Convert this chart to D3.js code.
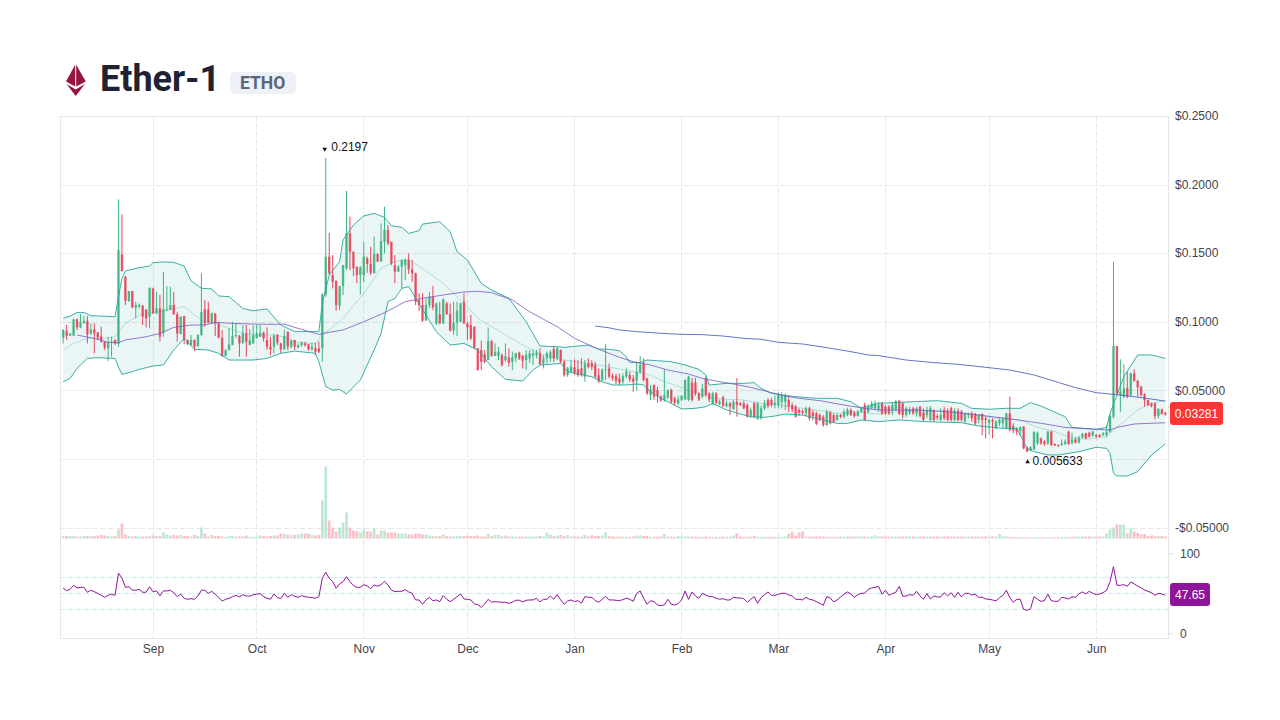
<!DOCTYPE html>
<html>
<head>
<meta charset="utf-8">
<title>Ether-1</title>
<script src="https://cdn.jsdelivr.net/npm/d3@7"></script>
<style>
  body { margin: 0; background: #fff; }
  svg { display: block; }
  text { font-family: "Liberation Sans", Arial, sans-serif; }
</style>
</head>
<body>
<svg id="chart" width="1280" height="720"></svg>
<script>
// daily candles, first candle is 6 Aug
var startDate = Date.UTC(2020, 7, 6);

var opens = [
.0888,.0936,.0902,.0902,.1021,.0963,.0992,.1009,.0919,.0948,
.0927,.0895,.0859,.0810,.0851,.0871,.0842,.1495,.1332,.1155,
.1228,.1106,.1114,.1121,.1094,.1041,.1247,.1065,.1102,.0924,
.1089,.1094,.1126,.1058,.0914,.1046,.0871,.0834,.0871,.0827,
.0907,.1094,.1094,.0992,.1065,.0992,.0888,.0754,.0798,.0834,
.0902,.0902,.0851,.0919,.0834,.0846,.0883,.0895,.0924,.0871,
.0822,.0822,.0907,.0846,.0803,.0932,.0822,.0871,.0817,.0834,
.0846,.0839,.0803,.0810,.0810,.0810,.1204,.1478,.1344,.1303,
.1121,.1264,.1393,.1648,.1515,.1405,.1344,.1344,.1466,.1425,
.1357,.1498,.1442,.1587,.1673,.1587,.1417,.1369,.1405,.1417,
.1454,.1386,.1357,.1162,.1126,.1012,.1126,.1187,.0992,.1060,
.0992,.1138,.1060,.0939,.0997,.1004,.1150,.0992,.0980,.0968,
.0810,.0798,.0768,.0725,.0863,.0754,.0756,.0761,.0725,.0744,
.0712,.0737,.0778,.0756,.0725,.0737,.0756,.0761,.0774,.0700,
.0737,.0737,.0805,.0737,.0798,.0712,.0615,.0640,.0671,.0659,
.0664,.0603,.0700,.0700,.0688,.0615,.0579,.0652,.0664,.0611,
.0608,.0591,.0567,.0604,.0616,.0591,.0574,.0635,.0701,.0591,
.0470,.0543,.0506,.0458,.0434,.0451,.0506,.0446,.0409,.0434,
.0438,.0434,.0560,.0560,.0482,.0458,.0591,.0482,.0404,.0482,
.0404,.0453,.0390,.0409,.0368,.0421,.0409,.0409,.0397,.0312,
.0409,.0295,.0300,.0373,.0434,.0434,.0397,.0397,.0421,.0421,
.0434,.0397,.0385,.0361,.0353,.0336,.0373,.0341,.0336,.0324,
.0312,.0251,.0343,.0324,.0288,.0324,.0312,.0324,.0361,.0341,
.0317,.0348,.0397,.0348,.0373,.0373,.0366,.0409,.0385,.0385,
.0356,.0361,.0429,.0409,.0324,.0341,.0373,.0336,.0385,.0341,
.0324,.0288,.0356,.0317,.0288,.0361,.0356,.0373,.0288,.0356,
.0349,.0276,.0324,.0336,.0332,.0288,.0332,.0300,.0268,.0288,
.0227,.0264,.0264,.0227,.0336,.0244,.0227,.0210,.0239,.0089,
.0069,.0074,.0118,.0154,.0130,.0118,.0203,.0113,.0106,.0106,
.0113,.0203,.0118,.0147,.0122,.0161,.0191,.0195,.0174,.0178,
.0178,.0178,.0178,.0203,.0312,.0827,.0470,.0458,.0519,.0470,
.0628,.0574,.0531,.0477,.0433,.0409,.0409,.0317,.0365,.0340];

var closes = [
.0944,.0902,.0919,.1021,.0963,.1002,.1009,.0912,.0948,.0919,
.0890,.0859,.0817,.0851,.0859,.0846,.1527,.1374,.1157,.1228,
.1109,.1126,.1126,.1041,.1029,.1252,.1065,.1102,.0895,.1094,
.1094,.1126,.1058,.0919,.1041,.0871,.0842,.0871,.0822,.0907,
.1075,.0992,.0997,.1065,.0992,.0888,.0754,.0798,.0839,.0902,
.0907,.0846,.0919,.0859,.0871,.0907,.0919,.0924,.0883,.0822,
.0803,.0902,.0851,.0803,.0900,.0822,.0866,.0822,.0834,.0851,
.0834,.0803,.0822,.0786,.0786,.1204,.1478,.1357,.1296,.1126,
.1264,.1417,.1648,.1515,.1393,.1344,.1400,.1478,.1425,.1361,
.1498,.1442,.1592,.1673,.1575,.1430,.1369,.1405,.1454,.1454,
.1386,.1357,.1150,.1126,.1012,.1126,.1187,.1109,.1138,.0992,
.1167,.1060,.0939,.0997,.1085,.1138,.0992,.0963,.0883,.0817,
.0652,.0712,.0712,.0863,.0754,.0786,.0786,.0689,.0754,.0705,
.0744,.0774,.0737,.0720,.0761,.0774,.0774,.0781,.0696,.0737,
.0774,.0781,.0737,.0810,.0712,.0615,.0664,.0676,.0628,.0615,
.0615,.0700,.0676,.0676,.0603,.0567,.0652,.0659,.0603,.0591,
.0574,.0560,.0608,.0640,.0584,.0567,.0640,.0689,.0579,.0482,
.0511,.0458,.0463,.0429,.0470,.0506,.0421,.0414,.0438,.0463,
.0579,.0604,.0434,.0482,.0438,.0518,.0470,.0438,.0482,.0414,
.0421,.0390,.0409,.0385,.0421,.0397,.0397,.0373,.0312,.0361,
.0312,.0409,.0373,.0409,.0390,.0397,.0414,.0470,.0470,.0470,
.0385,.0366,.0312,.0342,.0341,.0373,.0300,.0317,.0259,.0288,
.0251,.0348,.0263,.0276,.0324,.0312,.0348,.0361,.0324,.0317,
.0348,.0373,.0288,.0390,.0409,.0409,.0397,.0336,.0336,.0336,
.0397,.0426,.0332,.0324,.0373,.0361,.0336,.0373,.0317,.0288,
.0356,.0373,.0288,.0307,.0324,.0300,.0288,.0288,.0356,.0288,
.0288,.0336,.0332,.0300,.0264,.0324,.0288,.0288,.0288,.0276,
.0276,.0288,.0295,.0336,.0215,.0210,.0203,.0234,.0081,.0057,
.0089,.0203,.0195,.0118,.0113,.0203,.0106,.0103,.0098,.0118,
.0130,.0113,.0147,.0122,.0161,.0186,.0154,.0166,.0203,.0166,
.0166,.0191,.0203,.0317,.0827,.0482,.0494,.0519,.0458,.0628,
.0574,.0526,.0470,.0433,.0397,.0390,.0317,.0368,.0331,.03281];

var highs = [
.0949,.0980,.0919,.1026,.1028,.1060,.1046,.1046,.0992,.0992,
.0927,.0968,.0859,.0895,.0895,.0875,.1896,.1787,.1337,.1228,
.1228,.1150,.1138,.1126,.1094,.1252,.1252,.1223,.1199,.1369,
.1264,.1259,.1223,.1077,.1041,.1046,.0875,.0907,.0875,.0914,
.1357,.1162,.1150,.1070,.1065,.1004,.0944,.0803,.0956,.1004,
.0992,.0907,.0980,.0980,.0948,.0980,.0980,.0980,.0932,.0963,
.0895,.0914,.0914,.0851,.0944,.0932,.0875,.0871,.0846,.0859,
.0859,.0842,.0851,.0851,.0859,.1211,.2197,.1653,.1490,.1303,
.1264,.1417,.1957,.1770,.1515,.1405,.1410,.1587,.1478,.1551,
.1624,.1503,.1721,.1843,.1709,.1587,.1490,.1417,.1459,.1466,
.1503,.1454,.1361,.1211,.1211,.1175,.1223,.1264,.1143,.1150,
.1175,.1150,.1138,.1150,.1150,.1143,.1211,.1004,.1053,.0968,
.0810,.0866,.0798,.0963,.0871,.0846,.0822,.0774,.0846,.0810,
.0786,.0778,.0786,.0761,.0798,.0798,.0803,.0798,.0810,.0761,
.0786,.0798,.0822,.0822,.0803,.0725,.0676,.0725,.0730,.0725,
.0737,.0725,.0737,.0725,.0713,.0664,.0664,.0842,.0700,.0628,
.0625,.0625,.0628,.0665,.0640,.0616,.0713,.0754,.0737,.0596,
.0543,.0547,.0530,.0470,.0657,.0510,.0518,.0458,.0465,.0470,
.0586,.0611,.0594,.0594,.0490,.0550,.0604,.0490,.0494,.0490,
.0438,.0465,.0430,.0421,.0434,.0593,.0419,.0430,.0409,.0378,
.0419,.0419,.0394,.0434,.0446,.0450,.0465,.0490,.0490,.0482,
.0470,.0415,.0397,.0373,.0365,.0385,.0385,.0361,.0348,.0336,
.0324,.0365,.0356,.0336,.0336,.0333,.0365,.0378,.0373,.0353,
.0361,.0385,.0414,.0402,.0424,.0430,.0421,.0421,.0397,.0397,
.0421,.0433,.0433,.0421,.0385,.0385,.0385,.0385,.0390,.0373,
.0385,.0390,.0366,.0332,.0373,.0385,.0373,.0385,.0373,.0373,
.0361,.0341,.0341,.0349,.0341,.0332,.0336,.0312,.0300,.0300,
.0288,.0300,.0307,.0341,.0458,.0264,.0234,.0244,.0244,.0093,
.0098,.0203,.0203,.0161,.0142,.0210,.0210,.0118,.0110,.0147,
.0147,.0210,.0195,.0161,.0171,.0195,.0195,.0203,.0210,.0186,
.0186,.0200,.0251,.0332,.1442,.0827,.0730,.0693,.0640,.0633,
.0657,.0579,.0536,.0482,.0438,.0414,.0414,.0373,.0370,.0345];

var lows = [
.0846,.0871,.0902,.0902,.0944,.0956,.0992,.0846,.0907,.0774,
.0871,.0851,.0798,.0718,.0749,.0834,.0822,.1369,.1126,.1150,
.1101,.1029,.1101,.0980,.0963,.0956,.1060,.1060,.0859,.0895,
.1084,.1089,.1053,.0859,.0914,.0842,.0834,.0834,.0790,.0822,
.0902,.0968,.0992,.0992,.0900,.0883,.0749,.0754,.0793,.0834,
.0883,.0749,.0842,.0749,.0834,.0846,.0883,.0895,.0859,.0798,
.0761,.0774,.0834,.0774,.0798,.0798,.0810,.0798,.0810,.0822,
.0822,.0793,.0793,.0761,.0774,.0713,.1187,.1344,.1247,.1084,
.1089,.1199,.1381,.1381,.1337,.1284,.1204,.1291,.1361,.1344,
.1357,.1442,.1442,.1503,.1563,.1417,.1284,.1369,.1247,.1308,
.1352,.1296,.1126,.1084,.1004,.1012,.1102,.1089,.0980,.0987,
.0987,.1053,.0932,.0907,.0900,.1004,.0987,.0871,.0871,.0803,
.0647,.0652,.0700,.0725,.0749,.0754,.0725,.0676,.0712,.0676,
.0652,.0712,.0725,.0664,.0652,.0705,.0688,.0737,.0688,.0664,
.0700,.0712,.0712,.0725,.0700,.0603,.0603,.0632,.0615,.0603,
.0603,.0567,.0664,.0652,.0591,.0560,.0567,.0579,.0591,.0574,
.0550,.0540,.0547,.0591,.0565,.0494,.0500,.0630,.0569,.0470,
.0433,.0433,.0414,.0422,.0421,.0441,.0409,.0397,.0397,.0426,
.0433,.0426,.0421,.0465,.0426,.0446,.0458,.0418,.0397,.0404,
.0397,.0382,.0382,.0324,.0361,.0312,.0390,.0365,.0305,.0305,
.0300,.0290,.0290,.0361,.0373,.0382,.0373,.0373,.0373,.0361,
.0347,.0343,.0305,.0317,.0324,.0312,.0283,.0285,.0250,.0278,
.0239,.0245,.0256,.0268,.0280,.0300,.0300,.0316,.0317,.0305,
.0312,.0340,.0285,.0336,.0368,.0360,.0348,.0324,.0324,.0324,
.0324,.0356,.0324,.0300,.0312,.0324,.0324,.0312,.0307,.0276,
.0300,.0281,.0276,.0288,.0281,.0288,.0281,.0276,.0276,.0276,
.0276,.0268,.0300,.0276,.0251,.0264,.0178,.0154,.0178,.0154,
.0220,.0244,.0227,.0220,.0203,.0191,.0178,.0171,.0074,.005633,
.0057,.0069,.0106,.0106,.0098,.0106,.0098,.0098,.0093,.0098,
.0106,.0106,.0113,.0118,.0118,.0154,.0149,.0159,.0166,.0161,
.0161,.0171,.0166,.0195,.0300,.0470,.0348,.0446,.0446,.0463,
.0567,.0458,.0458,.0385,.0390,.0380,.0293,.0300,.0328,.0320];

// volume in arbitrary units, the picture has no volume axis
var volumes = [
2.5,2.5,2.5,2.5,2,2,2.5,2.5,2.5,2.5,3,3.5,3,2.5,2,2.5,
9,15,4,2.5,2,2.5,2,2,2,2.5,3,2.5,2.5,
6,4,3,3.5,3,3.5,2.5,2.5,2,3.5,2.5,11,5,2,3.5,2.5,2.5,2,1.7,2.5,2.5,2,2,2,3,1.7,1.7,1.7,3,2.5,2,2.5,3,3,5,4.5,4,3.5,3.5,4,5,5,5,3.5,3,3.5,
38,72,18,11,7,11,16,26,11,8,7,6,9,7,7,10,4,8,8,6,6,6,5,5,5,4,4,5,5,4,4,3,2.5,2.5,2.5,4,2.5,2,
2,2.5,2.5,2.5,2.5,2.5,2.5,3,2,2,4.5,2.5,3.5,3.5,2,3,2,2,2,2,2,2,2,2,2,2.5,2,6,4,2.5,3,3.5,2.5,3.5,2,2,2,1.7,3.5,2,3,2.5,2.5,3,6,
2.5,2,1.7,2,1.7,1.7,1.7,2,3,3,2.5,2.5,1.7,1.7,1.7,2,4.5,2,2,1.7,2.5,2,2,2,2,1.7,1.7,1.7,2,1.7,1.7,1.7,1.7,2,1.7,1.7,3,5,2,1.7,1.7,2,2.5,1.7,1.7,1.7,1.7,1.7,1.7,1.7,1.7,2,5,7,3,6,7,2,2,2,2,2,2,1.7,1.7,1.7,1.7,
2,2,2,2,2,2,2,2,2,2,3,2,2,2,2,2,2,2,2,2,2,2.2,
2,2,2,2,2,2,2,2,2,2,2,2,2,2,2,2,2,2,2,2,2,2,2,2,
4.5,2.5,2,1.5,1.5,1.2,1.5,1.5,1.2,1.5,1.5,1.2,1.2,1.2,1.2,1.5,1.2,1.2,1.5,1.5,1.5,
2,2,2,2,2,2,2,2,2,2,5,9,11,14,14,14,5,10,7,5.5,4,4.5,2.5,3,2.5,2.5,2.5,2];

var rsiValues = [
56.3,53.3,55,60,56.7,57.5,57.5,51.3,53.8,52,50,47.5,45,47.5,48.8,47.5,75,69.2,57.5,58.3,54.2,53.8,55,51.3,51.3,58.3,52,53,46.7,53,53,53.8,50.8,45.8,49.2,43.8,42.5,43.3,42.5,46.7,53.8,53.8,50,52.5,48.8,45,40.4,42.5,43.8,45.8,47.5,45.4,48.3,46.7,46.3,48.3,48.8,49.6,45.8,43.8,42.5,49.2,44.6,43.3,50,45,48.3,46.3,45,47.1,45.8,45,44.6,43.8,45.8,68.8,76.3,68.8,64.6,56.3,61.7,64.6,70.8,64.6,59.6,57.5,57.5,60.8,59.2,55.8,60.4,58.8,60.8,65,60.4,54.2,52,52.5,52.5,54.6,51.7,50,41.7,41.7,36.3,41.7,45,40.8,41.7,39.6,47.1,42.5,39.6,
42.5,45.8,49.2,42.9,42.5,41.7,36.7,35.8,32.5,36.7,42.5,38.8,39.6,39.2,38.8,38.8,37.5,38.8,41.3,41.3,39.2,41.3,41.7,41.7,43.8,39.2,42.5,42.5,46.7,42.5,48.3,41.7,36.3,40.4,41.7,39.6,40.8,37.5,45.8,45,45,40.8,38.8,42.5,46.3,41.7,41.7,41.3,40.8,42.1,43.8,42.5,40,50,52.9,43.8,36.3,40.8,39.6,35.4,34.6,35.4,42.5,36.3,35.4,37.1,41.7,52.9,42.5,51.7,46.7,43.8,50,47.9,45.8,45.8,43.8,42.5,43.3,41.7,41.7,45,44.2,44.2,43.3,38.8,42.5,45.8,37.5,44.6,48.3,51.7,47.5,47.5,48.8,50,50,47.9,46.7,42.5,42.5,41.7,45,42.5,41.7,39.6,37.5,35,45.8,44.2,39.2,41.7,
45.4,48.8,51.7,49.2,45,48.3,50,50,55,56.7,57.5,58.8,48.8,53.8,47.5,49.6,51.3,58.8,46.3,46.7,48.3,47.5,52.5,46.7,42.5,49.6,42.9,46.7,45.4,45.4,50.8,46.7,50.8,45,51.3,45.4,50,50,47.9,48.8,45,45,42.9,42.5,41.7,40.4,44.6,47.5,53.8,44.6,38.8,42.5,42.5,30,28.8,30.8,45.8,42.5,40,40.8,48.8,40.8,40,40,45,44.2,42.9,45.8,45,49.2,51.7,49.2,52.5,50,48.3,49.2,50.8,53.8,64.6,83.3,60,60,60.8,58.8,64.2,61.7,59.2,56.7,54.2,52.5,50.8,47.5,50,49.2,47.65];

// bollinger upper band, [day, price] kept as two lists
var upperDays = [0,2,4,6,8,15,16,17,18,22,25,26,29,32,35,37,40,43,45,48,52,55,59,63,67,74,75,77,80,81,84,87,90,93,95,98,100,103,104,109,112,114,117,121,124,129,134,138,143,145,152,155,158,161,163,164,167,169,172,176,180,184,186,187,192,197,200,202,205,208,212,218,224,228,231,236,246,253,260,263,268,273,277,280,283,290,292,299,302,303,305,307,311,315,319];
var upperVals = [.1029,.1045,.1072,.1072,.1048,.1041,.1187,.1320,.1374,.1398,.1410,.1435,.1440,.1437,.1410,.1303,.1248,.1243,.1192,.1187,.1101,.1084,.1097,.0980,.0932,.0932,.1138,.1345,.1442,.1600,.1709,.1775,.1794,.1765,.1704,.1692,.1648,.1668,.1716,.1733,.1661,.1515,.1454,.1284,.1235,.1175,.1004,.0827,.0822,.0817,.0834,.0805,.0803,.0793,.0749,.0708,.0706,.0725,.0720,.0713,.0689,.0657,.0616,.0543,.0555,.0555,.0560,.0519,.0482,.0470,.0458,.0446,.0446,.0421,.0373,.0409,.0421,.0429,.0409,.0373,.0366,.0373,.0373,.0414,.0390,.0312,.0234,.0220,.0234,.0336,.0470,.0604,.0762,.0762,.0737];

var lowerDays = [0,2,4,7,10,15,16,17,20,22,26,29,32,35,38,42,45,48,55,59,63,67,73,74,76,78,80,82,86,90,92,94,96,98,100,102,105,108,112,116,120,124,128,133,136,138,144,146,153,156,159,163,166,168,170,173,176,179,183,186,188,192,196,199,203,206,209,214,218,222,224,227,231,236,242,249,260,265,272,276,279,281,285,288,294,299,302,303,304,305,308,311,315,319];
var lowerVals = [.0567,.0591,.0664,.0737,.0742,.0737,.0676,.0620,.0640,.0657,.0681,.0689,.0798,.0883,.0803,.0798,.0774,.0725,.0725,.0737,.0774,.0790,.0774,.0713,.0530,.0506,.0511,.0477,.0579,.0798,.0919,.1150,.1174,.1247,.1260,.1175,.1053,.0931,.0834,.0846,.0798,.0676,.0584,.0572,.0652,.0688,.0700,.0640,.0603,.0567,.0543,.0543,.0550,.0543,.0494,.0446,.0409,.0368,.0373,.0385,.0409,.0361,.0331,.0312,.0307,.0317,.0331,.0324,.0300,.0276,.0263,.0263,.0288,.0276,.0288,.0276,.0268,.0244,.0227,.0227,.0081,.0057,.0033,.0033,.0057,.0089,.0081,.0045,-.0101,-.0120,-.0120,-.0089,.0033,.0113];

var midDays = [0,3,7,12,15,18,23,28,35,40,43,48,52,57,62,67,73,75,77,81,87,92,96,100,104,110,116,120,124,129,133,139,145,152,155,160,165,170,174,179,183,187,192,197,202,207,212,218,224,229,236,246,256,265,270,277,282,287,291,296,302,304,307,311,315,319];
var midVals = [.0798,.0846,.0883,.0883,.0895,.0992,.1065,.1077,.1114,.1017,.1004,.0956,.0919,.0907,.0907,.0859,.0842,.0919,.0944,.1029,.1211,.1393,.1442,.1459,.1393,.1284,.1138,.1029,.0968,.0895,.0834,.0761,.0725,.0700,.0689,.0664,.0640,.0616,.0567,.0526,.0487,.0453,.0438,.0434,.0409,.0397,.0380,.0361,.0336,.0348,.0332,.0361,.0349,.0324,.0300,.0288,.0234,.0203,.0166,.0147,.0166,.0215,.0276,.0361,.0409,.0429];

// purple moving average
var maDays = [4,9,13,16,18,24,28,32,37,41,44,49,55,61,64,69,74,77,81,87,93,99,104,110,116,120,124,130,135,143,148,155,161,165,170,175,181,185,189,194,199,204,209,213,219,226,232,236,246,256,265,275,283,290,299,303,305,310,319];
var maVals = [.0907,.0883,.0854,.0851,.0871,.0895,.0919,.0963,.0980,.0980,.0999,.0992,.0987,.0985,.0987,.0948,.0912,.0927,.0944,.1004,.1070,.1150,.1175,.1199,.1221,.1226,.1216,.1163,.1077,.0968,.0883,.0803,.0745,.0713,.0689,.0652,.0623,.0591,.0572,.0550,.0526,.0494,.0463,.0446,.0429,.0397,.0373,.0361,.0361,.0349,.0324,.0293,.0264,.0234,.0220,.0215,.0234,.0259,.0268];

// blue moving average, only starts in January
var longMaDays = [154,158,161,166,173,179,185,191,197,202,207,214,221,228,233,236,244,252,259,267,274,281,288,293,299,304,310,319];
var longMaVals = [.0973,.0960,.0944,.0932,.0920,.0912,.0910,.0900,.0883,.0876,.0854,.0842,.0815,.0786,.0762,.0757,.0725,.0706,.0694,.0672,.0652,.0616,.0562,.0524,.0487,.0475,.0458,.0426];

var priceTicks = [.25,.2,.15,.1,.05,-.05];
var priceGrid = [.2,.15,.1,.05,0,-.05];
var priceTickLabels = ["$0.2500","$0.2000","$0.1500","$0.1000","$0.05000","-$0.05000"];
var rsiTicks = [100,0];
var rsiBands = [70,50,30];
var lastPrice = "0.03281";
var lastRsi = "47.65";

var svg = d3.select("#chart");

var x = d3.scaleUtc()
  .domain([startDate, startDate + 319 * 864e5])
  .range([63.2, 1165.3]);
var day = d => x(startDate + d * 864e5);
var y = d3.scaleLinear().domain([0, .25]).range([459.5, 116.5]);
var yVol = d3.scaleLinear().domain([0, 72]).range([538.5, 466.5]);
var yRsi = d3.scaleLinear().domain([0, 100]).range([633.3, 553.3]);

var months = d3.utcMonth.range(new Date(startDate), new Date(startDate + 320 * 864e5));

// grid
var dash = "5.5,2.5";
var grid = svg.append("g").attr("stroke", "#e6e6e6").attr("stroke-dasharray", dash);
grid.selectAll(".h").data(priceGrid).join("line")
  .attr("x1", 60).attr("x2", 1168)
  .attr("y1", d => Math.floor(y(d)) + .5).attr("y2", d => Math.floor(y(d)) + .5);
grid.selectAll(".v").data(months).join("line")
  .attr("x1", d => Math.floor(x(d)) + .5).attr("x2", d => Math.floor(x(d)) + .5)
  .attr("y1", 116).attr("y2", 638);

svg.append("g").attr("stroke", "#cfe8f3").attr("stroke-dasharray", dash)
  .selectAll("line").data(rsiBands).join("line")
  .attr("x1", 60).attr("x2", 1168)
  .attr("y1", d => Math.round(yRsi(d)) + .5).attr("y2", d => Math.round(yRsi(d)) + .5);

svg.append("rect").attr("x", 60.5).attr("y", 116.5).attr("width", 1108).attr("height", 522)
  .attr("fill", "none").attr("stroke", "#e6e6e6");

// bollinger bands
var priceLine = d3.line().x(d => day(d[0])).y(d => y(d[1]));
var upperPts = upperDays.map((d, i) => [d, upperVals[i]]);
var lowerPts = lowerDays.map((d, i) => [d, lowerVals[i]]);
svg.append("path")
  .attr("d", priceLine(upperPts.concat(lowerPts.slice().reverse())) + "Z")
  .attr("fill", "#26a69a").attr("fill-opacity", .1);
function drawLine(days, vals, color, width, opacity) {
  svg.append("path")
    .attr("d", priceLine(days.map((d, i) => [d, vals[i]])))
    .attr("fill", "none").attr("stroke", color)
    .attr("stroke-width", width).attr("stroke-opacity", opacity);
}
drawLine(midDays, midVals, "#26a69a", 1, .3);

// volume
svg.append("g").selectAll("rect").data(volumes).join("rect")
  .attr("x", (d, i) => day(i) - 1.35)
  .attr("width", 2.7)
  .attr("y", d => yVol(d))
  .attr("height", d => yVol(0) - yVol(d))
  .attr("fill", (d, i) => closes[i] >= opens[i] ? "#bfe5d3" : "#fac0c7");

// candles
var up = "#3fb380", down = "#e8455c";
var candles = svg.append("g").selectAll("g").data(closes).join("g")
  .attr("stroke", (d, i) => closes[i] >= opens[i] ? up : down)
  .attr("fill", (d, i) => closes[i] >= opens[i] ? up : down);
candles.append("line")
  .attr("x1", (d, i) => day(i)).attr("x2", (d, i) => day(i))
  .attr("y1", (d, i) => y(highs[i])).attr("y2", (d, i) => y(lows[i]));
candles.append("rect")
  .attr("stroke", "none").attr("fill-opacity", .85)
  .attr("x", (d, i) => day(i) - 1.2).attr("width", 2.4)
  .attr("y", (d, i) => y(Math.max(opens[i], closes[i])))
  .attr("height", (d, i) => Math.max(1, Math.abs(y(opens[i]) - y(closes[i]))));

// bands and averages sit over the candles
drawLine(upperDays, upperVals, "#26a69a", 1, .9);
drawLine(lowerDays, lowerVals, "#26a69a", 1, .9);
drawLine(maDays, maVals, "#7e57c2", 1, .8);
drawLine(longMaDays, longMaVals, "#4a5cc0", 1, .85);

// rsi
svg.append("path")
  .attr("d", d3.line().x((d, i) => day(i)).y(d => yRsi(d))(rsiValues))
  .attr("fill", "none").attr("stroke", "#8e1599").attr("stroke-width", 1);

// axes
var axisColor = "#3f444f";
var priceAxis = svg.append("g").attr("transform", "translate(1168,-.6)")
  .call(d3.axisRight(y).tickValues(priceTicks).tickSize(0).tickPadding(7)
    .tickFormat((d, i) => priceTickLabels[i]));
var rsiAxis = svg.append("g").attr("transform", "translate(1168,0)")
  .call(d3.axisRight(yRsi).tickValues(rsiTicks).tickSize(5).tickPadding(7));
var monthAxis = svg.append("g").attr("transform", "translate(0,638)")
  .call(d3.axisBottom(x).tickValues(months).tickSize(0).tickPadding(6)
    .tickFormat(d3.utcFormat("%b")));
[priceAxis, rsiAxis, monthAxis].forEach(a => {
  a.select(".domain").remove();
  a.selectAll("text").attr("fill", axisColor).style("font-size", "12px")
    .style("font-family", '"Liberation Sans", Arial, sans-serif');
  a.selectAll("line").attr("stroke", "#e0e0e0");
});
rsiAxis.selectAll("text").attr("x", 12);

// high and low markers
svg.append("path").attr("d", d3.symbol(d3.symbolTriangle, 9))
  .attr("transform", "translate(" + (day(76) - 1) + ",149) rotate(180)").attr("fill", "#111");
svg.append("text").attr("x", day(76) + 5.5).attr("y", 151)
  .attr("font-size", 12).attr("fill", "#111").text("0.2197");
svg.append("path").attr("d", d3.symbol(d3.symbolTriangle, 9))
  .attr("transform", "translate(" + (day(279) + .5) + ",462)").attr("fill", "#111");
svg.append("text").attr("x", day(279) + 5.5).attr("y", 464.5)
  .attr("font-size", 12).attr("fill", "#111").text("0.005633");

// last value flags
function flag(yPos, w, color, label) {
  svg.append("rect").attr("x", 1170).attr("y", yPos - 11.5).attr("width", w).attr("height", 23)
    .attr("rx", 3).attr("fill", color);
  svg.append("text").attr("x", 1170 + w / 2).attr("y", yPos + 4.5)
    .attr("text-anchor", "middle").attr("font-size", 12).attr("fill", "#fff").text(label);
}
flag(413.5, 53, "#ff3434", lastPrice);
flag(594.5, 40, "#8e1599", lastRsi);

// header
var logo = svg.append("g").attr("fill", "#96163f");
logo.append("polygon").attr("points", "75.2,64.7 75.2,86.5 66,81.5");
logo.append("polygon").attr("points", "76.2,64.7 85.8,81.5 76.2,86.5");
logo.append("polygon").attr("points", "66.5,84 75.7,89.5 85,84 75.7,96");
svg.append("text").attr("x", 100).attr("y", 90.5)
  .style("font-family", "Roboto").attr("font-weight", 700).attr("font-size", 36)
  .attr("fill", "#1f2233").text("Ether-1");
svg.append("rect").attr("x", 230).attr("y", 72).attr("width", 66).attr("height", 22)
  .attr("rx", 5).attr("fill", "#eef1f5");
svg.append("text").attr("x", 240).attr("y", 89)
  .style("font-family", "Roboto").attr("font-weight", 700).attr("font-size", 17.5)
  .attr("fill", "#58667e").text("ETHO");
</script>
</body>
</html>
